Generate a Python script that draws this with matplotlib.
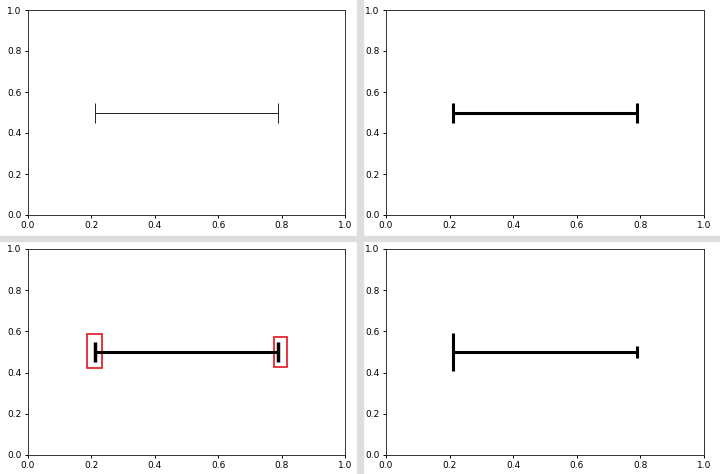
import matplotlib
matplotlib.use('Agg')
import matplotlib.pyplot as plt
from matplotlib.patches import Rectangle

# data: one horizontal error bar, center 0.5 +/- 0.29 at y = 0.5
bar_x = 0.5
bar_y = 0.5
bar_xerr = 0.29
ends_x = [0.21, 0.79]
ends_y = [0.5, 0.5]
ticks = [0.0, 0.2, 0.4, 0.6, 0.8, 1.0]
tick_labels = ['0.0', '0.2', '0.4', '0.6', '0.8', '1.0']
# highlighted cap regions (x0, y0, w, h) in data coords for panel 3
cap_boxes = [(0.186, 0.422, 0.047, 0.165), (0.776, 0.427, 0.041, 0.146)]
# marker sizes of left / right end in panel 4
end_sizes = [28, 8]

W, H = 720, 474
fig = plt.figure(figsize=(W / 100, H / 100), dpi=100)

def px_axes(x0, y0, x1, y1):
    return fig.add_axes([x0 / W, 1 - y1 / H, (x1 - x0) / W, (y1 - y0) / H])

# grey separators between the four screenshots
fig.patches.append(Rectangle((357 / W, 0), 6 / W, 1, transform=fig.transFigure,
                             color='#dedede', zorder=0))
fig.patches.append(Rectangle((0, 1 - 241 / H), 1, 5 / H, transform=fig.transFigure,
                             color='#dedede', zorder=0))

ax1 = px_axes(28, 10, 345, 215)
ax2 = px_axes(386, 10, 704, 215)
ax3 = px_axes(28, 249, 345, 455)
ax4 = px_axes(386, 249, 704, 455)

for ax in [ax1, ax2, ax3, ax4]:
    ax.set_xlim(0, 1)
    ax.set_ylim(0, 1)
    ax.set_xticks(ticks)
    ax.set_yticks(ticks)
    ax.set_xticklabels(tick_labels)
    ax.set_yticklabels(tick_labels)
    ax.tick_params(labelsize=6.5, length=2.5, width=0.7, pad=2)
    for s in ax.spines.values():
        s.set_linewidth(0.7)
        s.set_color('#333333')

# panel 1 - default thin error bar
ax1.errorbar(bar_x, bar_y, xerr=bar_xerr, color='#222222', lw=0.7,
             capsize=7, capthick=0.7)

# panel 2 - thick line and caps
ax2.errorbar(bar_x, bar_y, xerr=bar_xerr, color='k', lw=2.2,
             capsize=7.5, capthick=2.2)

# panel 3 - thick, caps highlighted
ax3.errorbar(bar_x, bar_y, xerr=bar_xerr, color='k', lw=2.2,
             capsize=7, capthick=2.5)
for (bx, by, bw, bh) in cap_boxes:
    ax3.add_patch(Rectangle((bx, by), bw, bh, fill=False, edgecolor='#e0141e', lw=1.2))

# panel 4 - caps of different size
ax4.plot(ends_x, ends_y, color='k', lw=2.2)
for xx, yy, ms in zip(ends_x, ends_y, end_sizes):
    ax4.plot(xx, yy, marker='|', ms=ms, mew=2.2, color='k')

fig.savefig('out.png', dpi=100)
